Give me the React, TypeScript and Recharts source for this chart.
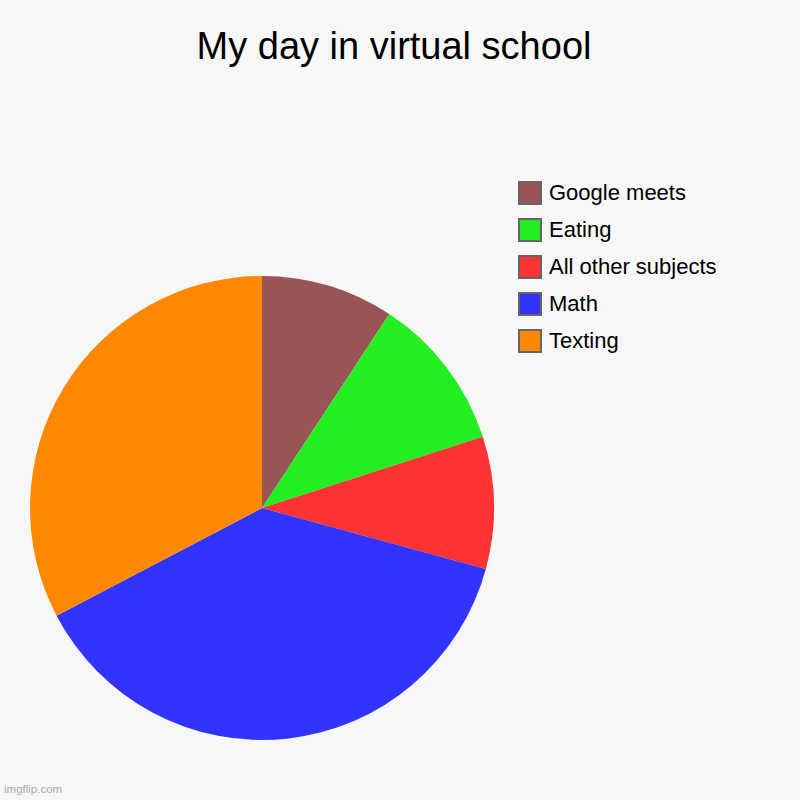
import { Legend, Pie, PieChart, Cell } from "recharts";

const categories = ["Google meets", "Eating", "All other subjects", "Math", "Texting"];
const hours = [9.25, 10.8, 9.2, 38.1, 32.7];
const colors = ["#995555", "#22ee22", "#ff3333", "#3333ff", "#ff8800"];

const data = categories.map((name, i) => ({ name, value: hours[i] }));

const font = "'Liberation Sans', Arial, Helvetica, sans-serif";

function LegendList() {
  return (
    <div style={{ fontFamily: font }}>
      {categories.map((name, i) => (
        <div key={name} style={{ display: "flex", alignItems: "center", height: 37 }}>
          <span
            style={{
              width: 20,
              height: 20,
              background: colors[i],
              border: "2px solid #666",
              marginRight: 7,
            }}
          />
          <span style={{ fontSize: 22, color: "#000" }}>{name}</span>
        </div>
      ))}
    </div>
  );
}

export default function App() {
  return (
    <div style={{ position: "relative", width: 800, height: 800, background: "#f7f7f7" }}>
      <style>{"body{margin:0}"}</style>
      <div
        style={{
          position: "absolute",
          top: 25,
          width: 788,
          textAlign: "center",
          fontFamily: font,
          fontSize: 38,
          color: "#000",
        }}
      >
        My day in virtual school
      </div>
      <PieChart
        width={800}
        height={800}
        margin={{ top: 0, right: 0, bottom: 0, left: 0 }}
        style={{ position: "absolute", top: 0, left: 0 }}
      >
        <Pie
          data={data}
          dataKey="value"
          nameKey="name"
          cx={262}
          cy={508}
          outerRadius={232}
          startAngle={90}
          endAngle={-270}
          stroke="none"
          isAnimationActive={false}
        >
          {data.map((d, i) => (
            <Cell key={d.name} fill={colors[i]} />
          ))}
        </Pie>
        <Legend
          content={() => <LegendList />}
          wrapperStyle={{ position: "absolute", left: 518, top: 174, width: 260 }}
        />
      </PieChart>
      <div
        style={{
          position: "absolute",
          left: 4,
          top: 783,
          fontFamily: font,
          fontSize: 11.5,
          color: "#aaa",
        }}
      >
        imgflip.com
      </div>
    </div>
  );
}
